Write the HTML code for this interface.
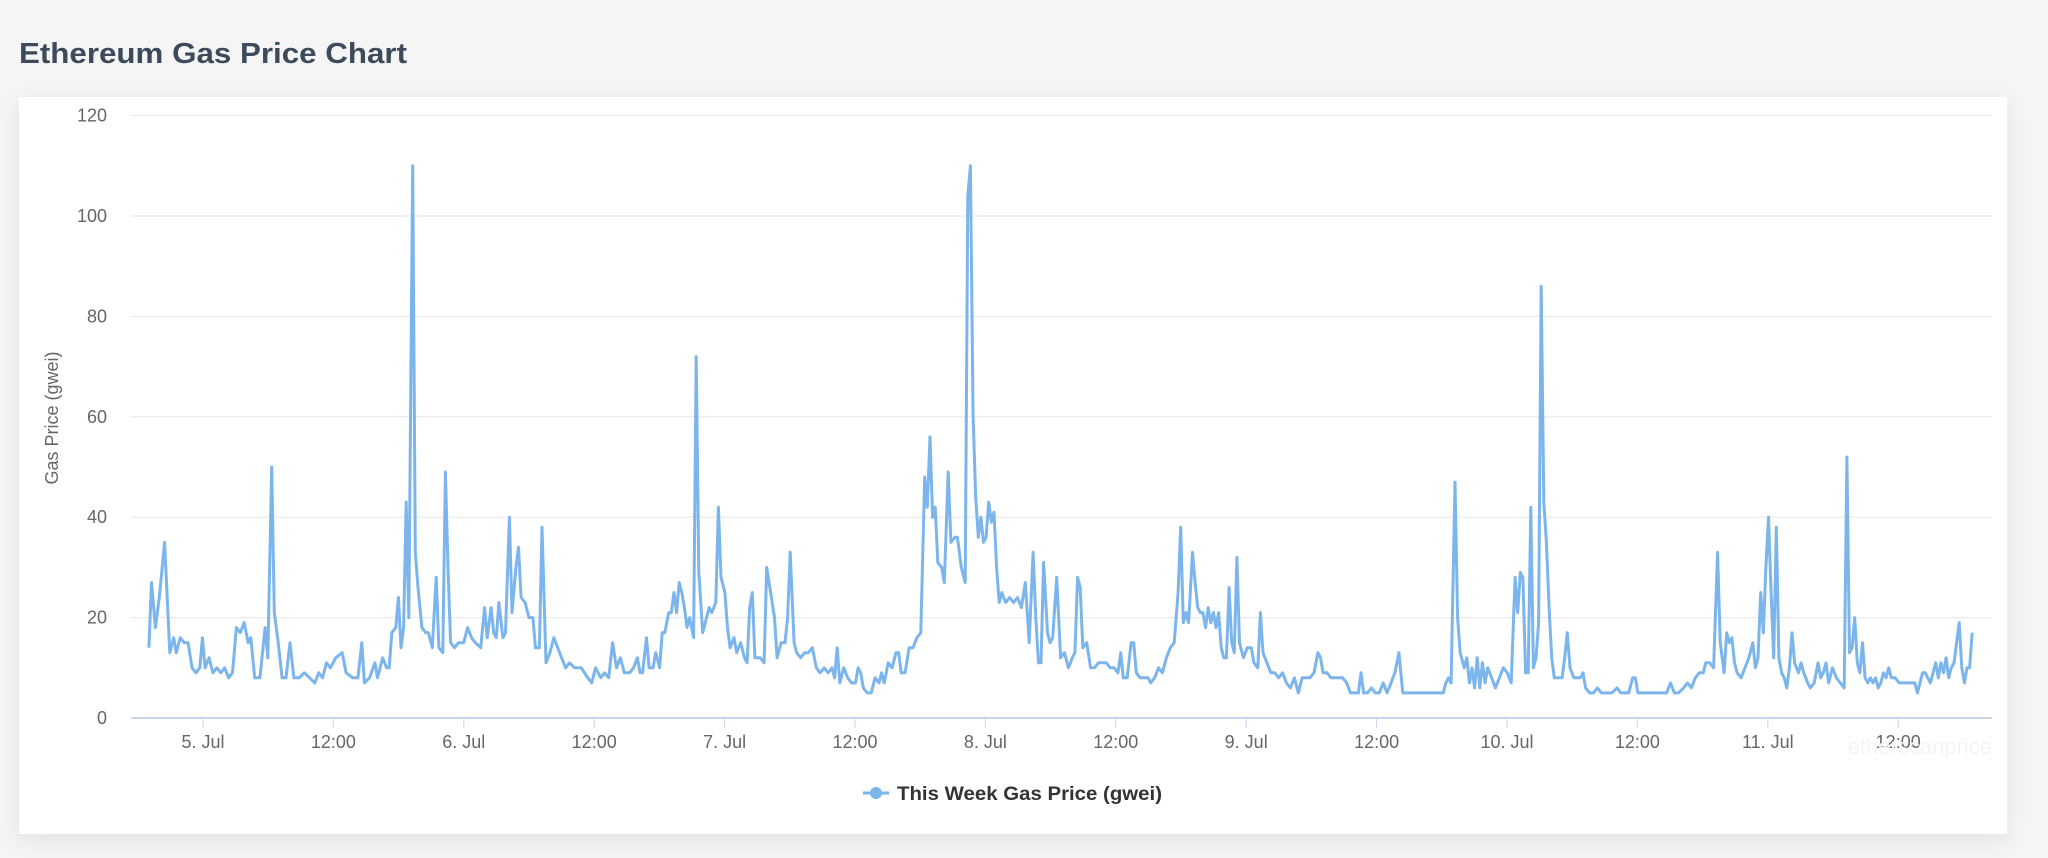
<!DOCTYPE html>
<html><head><meta charset="utf-8"><style>
html,body{margin:0;padding:0;background:#f5f5f5;width:2048px;height:858px;overflow:hidden}
svg{display:block}
text{font-family:"Liberation Sans",sans-serif}
</style></head><body>
<svg id="s" width="2048" height="858" xmlns="http://www.w3.org/2000/svg">
<defs><filter id="sh" x="-5%" y="-5%" width="110%" height="120%"><feDropShadow dx="0" dy="6" stdDeviation="10" flood-color="#000" flood-opacity="0.08"/></filter></defs>
<rect x="0" y="0" width="2048" height="858" fill="#f5f5f5"/>
<text x="19" y="63" font-size="29" font-weight="bold" fill="#3d4a5c" textLength="388" lengthAdjust="spacingAndGlyphs">Ethereum Gas Price Chart</text>
<rect x="19" y="97" width="1988" height="737" fill="#fff" filter="url(#sh)"/>
<g id="grid" stroke="#e6e6e6" stroke-width="1"></g>
<g id="ylab" font-size="18" fill="#666" text-anchor="end"></g>
<text transform="translate(58,418) rotate(-90)" font-size="18" fill="#666" text-anchor="middle">Gas Price (gwei)</text>
<line x1="131" y1="718" x2="1992" y2="718" stroke="#ccd6eb" stroke-width="2"/>
<g id="xt" stroke="#ccd6eb" stroke-width="1"></g>
<g id="xlab" font-size="18" fill="#666" text-anchor="middle"></g>
<text x="1992" y="754" font-size="22" fill="#f4f4f4" text-anchor="end">etherscanprice</text>
<path id="ln" fill="none" stroke="#7cb5ec" stroke-width="3" stroke-linejoin="round"/>
<line x1="863" y1="793" x2="889" y2="793" stroke="#7cb5ec" stroke-width="3"/>
<circle cx="876" cy="793" r="6" fill="#7cb5ec"/>
<text x="897" y="800" font-size="19" font-weight="bold" fill="#333" textLength="265" lengthAdjust="spacingAndGlyphs">This Week Gas Price (gwei)</text>
</svg>
<script>
var NS="http://www.w3.org/2000/svg";
function el(p,t,a,txt){var e=document.createElementNS(NS,t);for(var k in a)e.setAttribute(k,a[k]);if(txt!=null)e.textContent=txt;document.getElementById(p).appendChild(e);}
function Y(v){return 718-v*5.02;}
for(var v=20;v<=120;v+=20){el("grid","line",{x1:131,x2:1992,y1:Y(v),y2:Y(v)});}
for(var v=0;v<=120;v+=20){el("ylab","text",{x:107,y:Y(v)+6},String(v));}
var labs=["5. Jul","12:00","6. Jul","12:00","7. Jul","12:00","8. Jul","12:00","9. Jul","12:00","10. Jul","12:00","11. Jul","12:00"];
for(var i=0;i<14;i++){var x=203+i*130.4;el("xt","line",{x1:x,x2:x,y1:718,y2:728});el("xlab","text",{x:x,y:748},labs[i]);}
var d=[114,14,116,27,119,18,122,24,126,35,130,13,133,16,135,13,138,16,141,15,144,15,147,10,150,9,153,10,155,16,157,10,160,12,163,9,166,10,169,9,172,10,175,8,178,9,181,18,184,17,187,19,190,15,192,16,195,8,199,8,203,18,205,12,208,50,210,21,213,15,216,8,219,8,222,15,225,8,229,8,233,9,237,8,241,7,244,9,247,8,250,11,253,10,257,12,262,13,265,9,270,8,274,8,277,15,279,7,283,8,287,11,289,8,293,12,296,10,298,10,300,17,303,18,305,24,307,14,309,18,311,43,313,20,316,110,318,33,320,26,323,18,326,17,328,17,331,14,334,28,336,14,339,13,341,49,343,30,345,15,348,14,351,15,355,15,358,18,361,16,364,15,368,14,371,22,373,16,376,22,378,17,380,16,382,23,385,16,387,17,390,40,392,21,395,30,397,34,399,24,402,23,405,20,408,20,410,14,413,14,415,38,418,11,421,13,424,16,427,14,430,12,433,10,436,11,440,10,445,10,450,8,453,7,456,10,460,8,463,9,466,8,469,15,472,10,475,12,478,9,482,9,485,10,488,12,490,9,492,9,495,16,497,10,500,10,502,13,505,10,507,17,509,17,512,21,514,21,516,25,518,21,520,27,522,25,524,22,526,18,528,20,531,16,533,72,535,29,538,17,540,19,543,22,545,21,548,23,550,42,552,28,555,25,557,18,559,14,562,16,564,13,567,15,570,12,572,11,574,22,576,25,578,12,582,12,585,11,587,30,590,25,593,20,595,12,598,15,601,15,603,20,605,33,608,15,610,13,613,12,616,13,619,13,622,14,625,10,628,9,631,10,634,9,637,10,639,8,641,14,643,7,646,10,649,8,652,7,655,7,657,10,659,9,661,6,664,5,667,5,670,8,673,7,675,9,677,7,680,11,683,10,686,13,688,13,690,9,693,9,696,14,699,14,702,16,705,17,708,48,710,42,712,56,714,40,716,42,718,31,721,30,723,27,726,49,728,35,731,36,733,36,736,30,739,27,741,104,743,110,745,60,747,44,749,36,751,40,753,35,755,36,757,43,759,39,761,41,763,30,765,23,767,25,770,23,773,24,776,23,779,24,782,22,785,27,788,15,791,33,793,20,795,11,797,11,799,31,802,17,804,15,806,16,809,28,812,12,815,13,818,10,821,12,823,13,825,28,827,26,829,14,832,15,835,10,838,10,841,11,844,11,847,11,850,10,853,10,856,9,858,13,860,8,863,8,866,15,868,15,870,9,873,8,876,8,879,8,881,7,884,8,887,10,890,9,893,12,896,14,899,15,902,25,904,38,906,19,908,21,910,19,913,33,915,27,917,22,919,21,921,21,923,18,925,22,927,19,929,21,931,18,933,21,935,14,937,12,939,12,941,26,943,15,945,13,947,32,949,15,952,12,955,14,958,14,960,11,963,10,965,21,967,13,970,11,973,9,976,9,979,8,982,9,985,7,988,6,991,8,994,5,997,8,1000,8,1003,8,1006,9,1009,13,1011,12,1013,9,1016,9,1019,8,1022,8,1025,8,1028,8,1031,7,1034,5,1037,5,1040,5,1042,9,1044,5,1047,5,1050,6,1053,5,1056,5,1059,7,1062,5,1065,7,1068,9,1071,13,1074,5,1080,5,1090,5,1100,5,1105,5,1107,7,1109,8,1111,7,1114,47,1116,20,1118,13,1121,10,1123,12,1125,7,1127,10,1129,6,1131,12,1133,6,1135,11,1137,7,1139,10,1142,8,1145,6,1148,8,1151,10,1154,9,1157,7,1160,28,1162,21,1164,29,1166,28,1168,9,1170,9,1172,42,1174,10,1176,12,1178,19,1180,86,1182,43,1184,35,1186,22,1188,12,1190,8,1193,8,1196,8,1198,12,1200,17,1202,10,1205,8,1208,8,1210,8,1212,9,1214,6,1217,5,1220,5,1223,6,1226,5,1230,5,1234,5,1238,6,1241,5,1244,5,1247,5,1250,8,1252,8,1254,5,1258,5,1265,5,1272,5,1276,5,1279,7,1282,5,1285,5,1289,6,1292,7,1295,6,1298,8,1301,9,1304,9,1306,11,1309,11,1312,10,1315,33,1317,15,1320,9,1322,17,1324,15,1326,16,1328,11,1330,9,1333,8,1336,10,1339,12,1342,15,1344,10,1346,12,1348,25,1350,17,1352,30,1354,40,1356,25,1358,12,1360,38,1362,12,1364,9,1366,8,1368,6,1370,10,1372,17,1374,11,1377,9,1379,11,1381,9,1384,7,1386,6,1389,7,1392,11,1394,8,1396,9,1398,11,1400,7,1403,10,1406,8,1409,7,1412,6,1414,52,1416,13,1418,14,1420,20,1422,11,1424,9,1426,15,1428,8,1430,7,1432,8,1434,7,1436,8,1438,6,1440,7,1442,9,1444,8,1446,10,1448,8,1451,8,1454,7,1458,7,1462,7,1466,7,1468,5,1470,7,1472,9,1474,9,1476,8,1478,7,1480,9,1482,11,1484,8,1486,11,1488,9,1490,12,1492,8,1494,10,1496,11,1498,15,1500,19,1502,10,1504,7,1506,10,1508,10,1510,17];
var p="";
for(var i=0;i<d.length;i+=2){var x=(d[i]*2048/1568).toFixed(1);p+=(i?"L":"M")+x+","+Y(d[i+1]).toFixed(1);}
document.getElementById("ln").setAttribute("d",p);
</script>
</body></html>
